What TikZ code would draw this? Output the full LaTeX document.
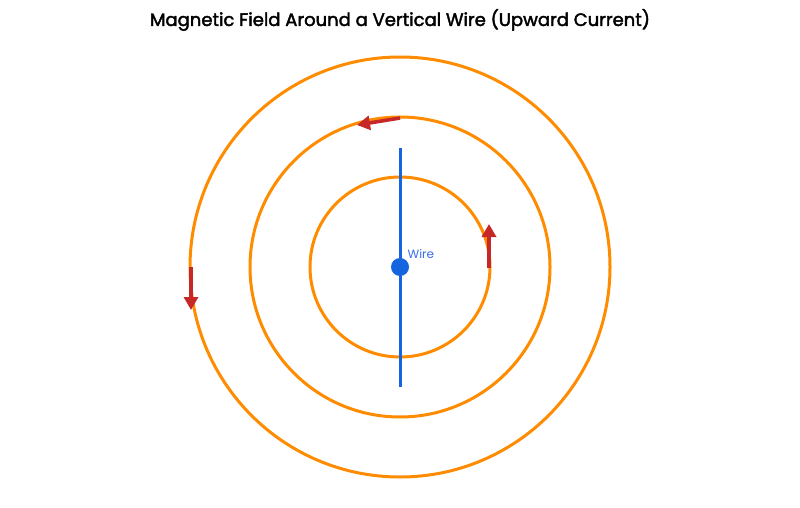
\documentclass[tikz,border=0pt]{standalone}
\usepackage{fontspec}
\setmainfont{Poppins}
\newfontfamily\titlefont{Poppins}[FakeBold=2.2]
\usetikzlibrary{arrows.meta}
\definecolor{fieldorange}{HTML}{FF8C00}
\definecolor{wireblue}{HTML}{1565E0}
\definecolor{labelblue}{HTML}{3A6EE8}
\definecolor{arrowred}{HTML}{C62828}
\tikzset{
  fieldline/.style={circle, draw=fieldorange, line width=3pt, inner sep=0pt},
  fieldarrow/.style={draw=arrowred, line width=3.6pt, -{Triangle[width=14pt,length=13pt]}},
}
\begin{document}
\begin{tikzpicture}[x=1pt, y=-1pt]
\useasboundingbox (0,0) rectangle (800,508);
\node[font=\titlefont\fontsize{18}{21}\selectfont] (title) at (400,20) {Magnetic Field Around a Vertical Wire (Upward Current)};
\node[fieldline, minimum size=180pt] (inner) at (400,267) {};
\node[fieldline, minimum size=300pt] (middle) at (400,267) {};
\node[fieldline, minimum size=420pt] (outer) at (400,267) {};
\coordinate (wiretop) at (400,148);
\coordinate (wirebot) at (400,387);
\draw[wireblue, line width=3pt] (wiretop) -- (wirebot);
\node[circle, fill=wireblue, minimum size=18pt, inner sep=0pt] (wire) at (400,267) {};
\node[anchor=west, text=labelblue, font=\fontsize{12}{14}\selectfont] (wirelabel) at (404,254) {Wire};
\coordinate (a1) at (489,268);
\coordinate (a2) at (489,224);
\coordinate (b1) at (400,118);
\coordinate (b2) at (357,125);
\coordinate (c1) at (191,267);
\coordinate (c2) at (191,310);
\draw[fieldarrow] (a1) -- (a2);
\draw[fieldarrow] (b1) -- (b2);
\draw[fieldarrow] (c1) -- (c2);
\end{tikzpicture}
\end{document}
